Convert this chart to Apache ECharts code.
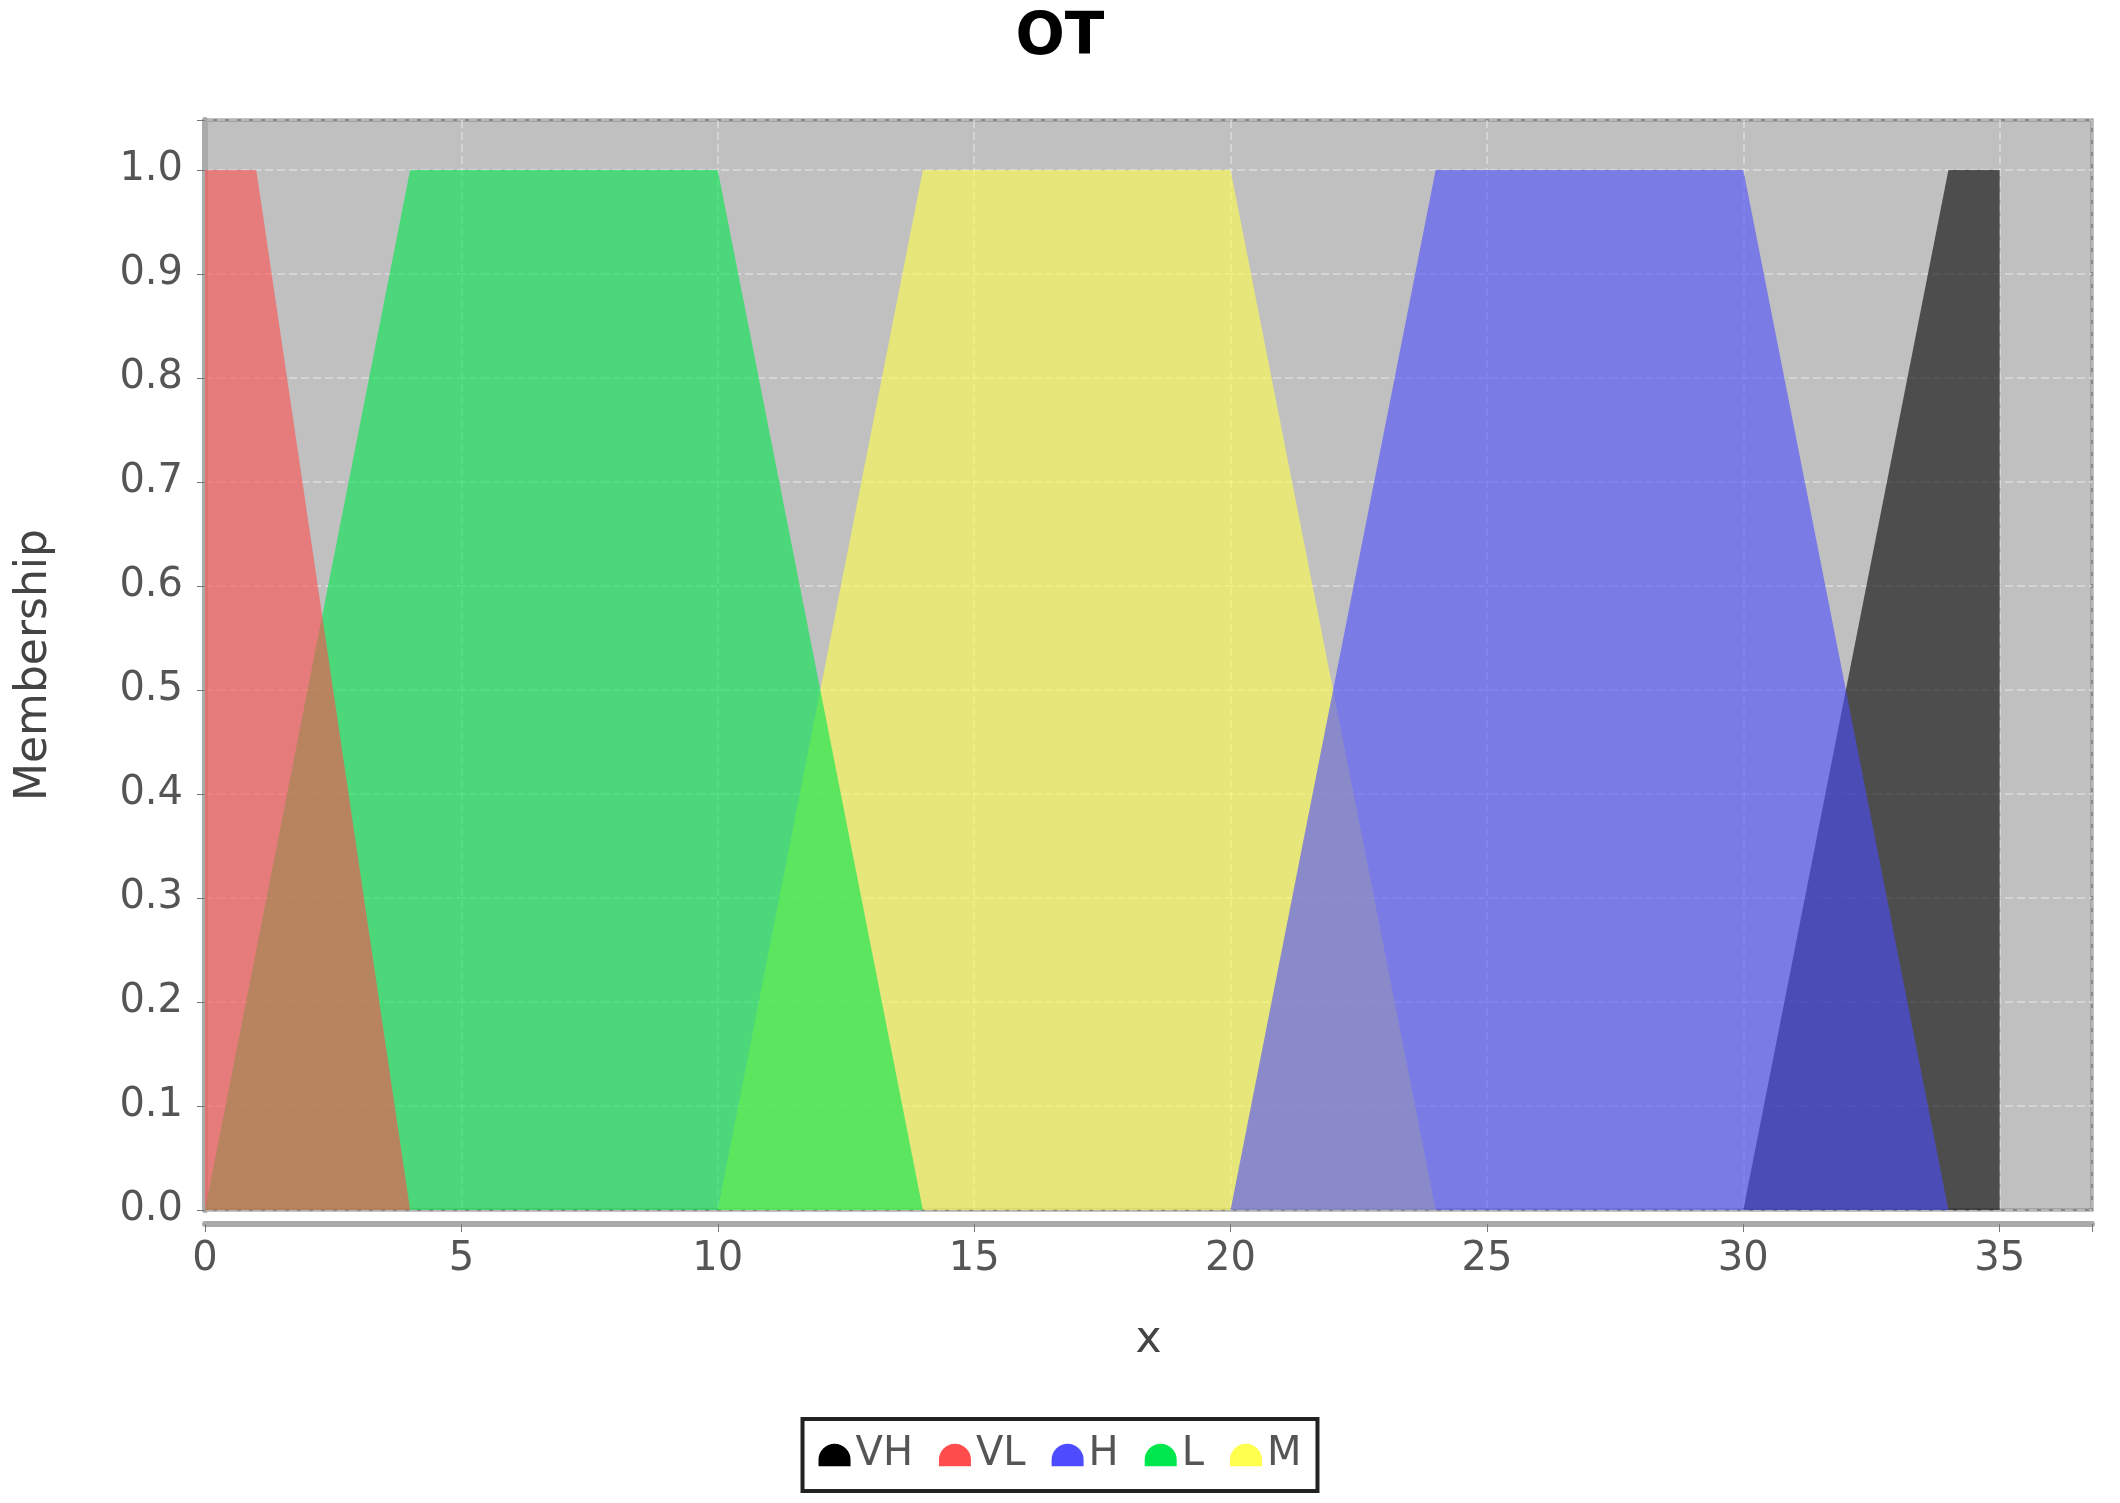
<!DOCTYPE html>
<html><head><meta charset="utf-8">
<script src="https://cdn.jsdelivr.net/npm/echarts@6/dist/echarts.min.js"></script>
<style>html,body{margin:0;background:#fff}#c{width:2120px;height:1503px}</style>
</head><body><div id="c"></div>
<script>
const seriesNames = ['VH', 'VL', 'H', 'L', 'M']
const colors = ['#000000', '#ff4d4d', '#4d4dff', '#00e64d', '#ffff4d']
const points = {
    VH: [[30, 0], [34, 1], [35, 1], [35, 0]],
    VL: [[0, 0], [0, 1], [1, 1], [4, 0]],
    H: [[20, 0], [24, 1], [30, 1], [34, 0]],
    L: [[0, 0], [4, 1], [10, 1], [14, 0]],
    M: [[10, 0], [14, 1], [20, 1], [24, 0]]
}
const xTicks = [0, 5, 10, 15, 20, 25, 30, 35]
// stacking order, bottom to top
const drawOrder = ['M', 'L', 'VL', 'VH', 'H']

const chart = echarts.init(document.getElementById('c'))
const font = 'DejaVu Sans'
chart.setOption({
    animation: false,
    title: { text: 'OT', left: 'center', top: 5, textStyle: { fontSize: 58, fontWeight: 'bold', color: '#000', fontFamily: font } },
    grid: { left: 205, right: 28, top: 120, bottom: 293, backgroundColor: '#c0c0c0', show: true, borderColor: '#888', borderWidth: 3 },
    xAxis: {
        type: 'value', min: 0, max: 36.8, interval: 5, name: 'x', nameLocation: 'middle', nameGap: 95,
        nameTextStyle: { fontSize: 44, color: '#444', fontFamily: font },
        axisLine: { show: true, onZero: false, lineStyle: { color: '#aaa', width: 6 } },
        offset: 14,
        axisTick: { show: true, length: 8, lineStyle: { color: '#777' } },
        axisLabel: { fontSize: 40, color: '#555', fontFamily: font, margin: 16,
            formatter: v => xTicks.includes(v) ? String(v) : '' },
        splitLine: { show: true, lineStyle: { color: 'rgba(240,240,240,0.45)', type: 'dashed', width: 2 } }
    },
    yAxis: {
        type: 'value', min: 0, max: 1.048, interval: 0.1, name: 'Membership', nameLocation: 'middle', nameGap: 140,
        nameTextStyle: { fontSize: 44, color: '#444', fontFamily: font },
        axisLine: { show: true, lineStyle: { color: '#aaa', width: 6 } },
        offset: 8,
        axisTick: { show: true, length: 8, lineStyle: { color: '#777' } },
        axisLabel: { fontSize: 40, color: '#555', fontFamily: font, margin: 14,
            formatter: v => v <= 1.0001 ? v.toFixed(1) : '' },
        splitLine: { show: true, lineStyle: { color: 'rgba(240,240,240,0.45)', type: 'dashed', width: 2 } }
    },
    legend: {
        bottom: 12, left: 'center', data: seriesNames, borderColor: '#222', borderWidth: 4, padding: [16, 16],
        itemWidth: 32, itemHeight: 32, itemGap: 26, icon: 'path://M0,10 A5,5 0 0 1 10,10 L10,12 L0,12 Z',
        textStyle: { fontSize: 40, color: '#555', fontFamily: font }
    },
    series: seriesNames.map((n, i) => ({
        name: n, type: 'line', data: points[n], symbol: 'none', color: colors[i],
        z: 2 + drawOrder.indexOf(n),
        lineStyle: { width: 0 }, areaStyle: { color: colors[i], opacity: 0.6 }
    }))
})
</script></body></html>
